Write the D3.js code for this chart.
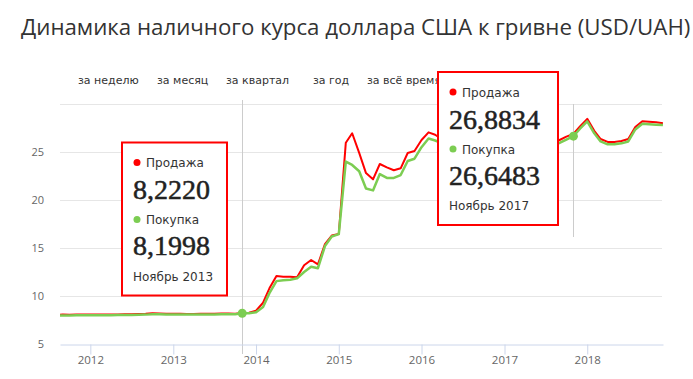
<!DOCTYPE html>
<html><head><meta charset="utf-8">
<script src="https://cdn.jsdelivr.net/npm/d3@7/dist/d3.min.js"></script>
<style>
html,body{margin:0;padding:0;background:#fff;}
svg{display:block;}
</style></head>
<body><svg id="c" width="693" height="379"></svg>
<script>
// ---------- data ----------
const title = "Динамика наличного курса доллара США к гривне (USD/UAH)";
const buttons = ["за неделю", "за месяц", "за квартал", "за год", "за всё время"];
const startMonth = [2011, 7]; // August 2011 (month index 0-based)
const sell = [
  8.05, 8.06, 8.05, 8.07, 8.08,
  8.08, 8.08, 8.07, 8.07, 8.08, 8.09, 8.10, 8.12, 8.14, 8.20, 8.18, 8.15,
  8.14, 8.14, 8.13, 8.13, 8.14, 8.14, 8.15, 8.18, 8.17, 8.16, 8.2220, 8.25,
  8.47, 9.30, 10.80, 12.08, 12.00, 12.00, 11.95, 13.20, 13.75, 13.30, 15.40, 16.30,
  16.46, 25.97, 26.95, 24.90, 22.80, 22.15, 23.75, 23.40, 23.10, 23.30, 24.90, 25.10,
  26.25, 27.05, 26.80, 26.30, 25.50, 25.20, 25.10, 25.50, 26.20, 26.00, 25.90, 27.10,
  27.80, 27.30, 27.10, 26.90, 26.50, 26.20, 26.00, 25.90, 26.25, 26.60, 26.8834, 27.70,
  28.45, 27.20, 26.35, 26.05, 26.05, 26.15, 26.35, 27.60, 28.20, 28.15, 28.10, 28.00
];
const buy = [
  7.97, 7.98, 7.98, 7.99, 8.00,
  8.00, 8.00, 8.00, 8.00, 8.01, 8.02, 8.03, 8.05, 8.06, 8.10, 8.10, 8.08,
  8.07, 8.07, 8.06, 8.06, 8.07, 8.07, 8.08, 8.10, 8.10, 8.09, 8.1998, 8.20,
  8.30, 8.85, 10.30, 11.55, 11.65, 11.70, 11.84, 12.50, 13.05, 12.90, 15.20, 16.20,
  16.45, 24.00, 23.65, 23.00, 21.20, 21.00, 22.70, 22.30, 22.30, 22.60, 24.06, 24.30,
  25.50, 26.40, 26.20, 25.90, 25.10, 24.80, 24.70, 25.10, 25.90, 25.60, 25.50, 26.80,
  27.40, 27.00, 26.80, 26.60, 26.20, 25.90, 25.70, 25.60, 25.95, 26.30, 26.6483, 27.45,
  28.20, 26.95, 26.10, 25.80, 25.80, 25.90, 26.10, 27.35, 27.95, 27.90, 27.85, 27.80
];
const yearTicks = [2012, 2013, 2014, 2015, 2016, 2017, 2018];
const yLabelTicks = [5, 10, 15, 20, 25];
const yGridTicks = [10, 15, 20, 25, 30];
const highlights = [
  {date: [2013, 10], label: "Ноябрь 2013"},
  {date: [2017, 10], label: "Ноябрь 2017"}
];

// ---------- layout ----------
const RED = "#ff0000", GREEN = "#7ccd52";
const L = 60, R = 663, T = 104, B = 344;
const svg = d3.select("#c");

const dates = sell.map((_, i) => new Date(startMonth[0], startMonth[1] + i, 1));
const rows = dates.map((d, i) => ({date: d, sell: sell[i], buy: buy[i]}));

// calibrate time scale: 2013-01-01 at 173.3px, 82.8px per year
const cal = d3.scaleTime().domain([new Date(2013,0,1), new Date(2017,0,1)]).range([173.3, 173.3 + 4*82.8]);
const x = d3.scaleTime().domain([cal.invert(L), cal.invert(R)]).range([L, R]);
const y = d3.scaleLinear().domain([5, 30]).range([B, T]);

// title
const tt = svg.append("text").attr("x", 21).attr("y", 35)
  .attr("font-family", "Open Sans, sans-serif").attr("font-size", 22)
  .attr("fill", "#333").text(title);
const w0 = tt.node().getComputedTextLength();
tt.attr("font-size", Math.max(18, Math.min(24, 22 * 670 / w0)));

// gridlines
svg.append("g").selectAll("line").data(yGridTicks).join("line")
  .attr("x1", L).attr("x2", R - 1).attr("y1", d => Math.round(y(d)) + 0.5).attr("y2", d => Math.round(y(d)) + 0.5)
  .attr("stroke", "#e6e6e6").attr("stroke-width", 1);

// y labels
svg.append("g").selectAll("text").data(yLabelTicks).join("text")
  .attr("x", 44).attr("y", d => y(d) + 4)
  .attr("text-anchor", "end").attr("font-family", "Open Sans, sans-serif")
  .attr("font-size", 11).attr("fill", "#666").text(d => d);

// crosshairs
const hx = highlights.map(h => x(new Date(h.date[0], h.date[1], 1)));
svg.append("line").attr("x1", Math.round(hx[0]) + 0.5).attr("x2", Math.round(hx[0]) + 0.5)
  .attr("y1", T - 4).attr("y2", B + 10).attr("stroke", "#cccccc");
svg.append("line").attr("x1", Math.round(hx[1]) + 0.5).attr("x2", Math.round(hx[1]) + 0.5)
  .attr("y1", T).attr("y2", 237).attr("stroke", "#cccccc");

// x axis
const xAxis = d3.axisBottom(x)
  .tickValues(yearTicks.map(yy => new Date(yy, 0, 1)))
  .tickFormat(d3.timeFormat("%Y")).tickSize(10).tickSizeOuter(0).tickPadding(1);
const gx = svg.append("g").attr("transform", `translate(0,${B + 0.5})`).call(xAxis);
gx.select(".domain").attr("stroke", "#ccd6eb");
gx.selectAll(".tick line").attr("stroke", "#ccd6eb");
gx.selectAll(".tick text").attr("fill", "#666").attr("font-family", "Open Sans, sans-serif").attr("font-size", 11.5);

// lines
svg.append("clipPath").attr("id", "clip").append("rect")
  .attr("x", L).attr("y", T - 10).attr("width", R - L).attr("height", B - T + 10);
const lineG = svg.append("g").attr("clip-path", "url(#clip)");
const lineSell = d3.line().x(d => x(d.date)).y(d => y(d.sell));
const lineBuy = d3.line().x(d => x(d.date)).y(d => y(d.buy));
lineG.append("path").datum(rows).attr("d", lineSell).attr("fill", "none")
  .attr("stroke", RED).attr("stroke-width", 2).attr("stroke-linejoin", "round");
lineG.append("path").datum(rows).attr("d", lineBuy).attr("fill", "none")
  .attr("stroke", GREEN).attr("stroke-width", 2.5).attr("stroke-linejoin", "round");

// highlight markers
const hRows = highlights.map(h => rows.find(r => r.date.getFullYear() === h.date[0] && r.date.getMonth() === h.date[1]));
svg.append("g").selectAll("circle").data(hRows).join("circle")
  .attr("cx", d => x(d.date)).attr("cy", d => y(d.buy)).attr("r", 4.5).attr("fill", GREEN);

// buttons
const btnX = [78, 157, 226, 313, 367];
svg.append("g").selectAll("text").data(buttons).join("text")
  .attr("x", (d, i) => btnX[i]).attr("y", 84)
  .attr("font-family", "DejaVu Sans, sans-serif").attr("font-size", 11)
  .attr("fill", "#333").text(d => d);

// tooltips
const fmt = v => d3.format(".4f")(v).replace(".", ",");
function tooltip(left, top, width, row, label) {
  const g = svg.append("g");
  g.append("rect").attr("x", left).attr("y", top).attr("width", width).attr("height", 153)
    .attr("fill", "#fff").attr("stroke", RED).attr("stroke-width", 2);
  const sans = "DejaVu Sans, sans-serif", serif = "Liberation Serif, serif";
  g.append("circle").attr("cx", left + 15).attr("cy", top + 20).attr("r", 3.5).attr("fill", RED);
  g.append("text").attr("x", left + 24).attr("y", top + 24.5).attr("font-family", sans)
    .attr("font-size", 12).attr("fill", "#333").text("Продажа");
  g.append("text").attr("x", left + 11).attr("y", top + 56.5).attr("font-family", serif)
    .attr("font-size", 28).attr("fill", "#222").attr("stroke", "#222").attr("stroke-width", 0.5)
    .text(fmt(row.sell));
  g.append("circle").attr("cx", left + 15).attr("cy", top + 77).attr("r", 3.5).attr("fill", GREEN);
  g.append("text").attr("x", left + 24).attr("y", top + 81.5).attr("font-family", sans)
    .attr("font-size", 12).attr("fill", "#333").text("Покупка");
  g.append("text").attr("x", left + 11).attr("y", top + 112.5).attr("font-family", serif)
    .attr("font-size", 28).attr("fill", "#222").attr("stroke", "#222").attr("stroke-width", 0.5)
    .text(fmt(row.buy));
  g.append("text").attr("x", left + 11).attr("y", top + 138).attr("font-family", sans)
    .attr("font-size", 12).attr("fill", "#333").text(label);
}
tooltip(122, 142.5, 105, hRows[0], highlights[0].label);
tooltip(438, 72, 120, hRows[1], highlights[1].label);
</script></body></html>
